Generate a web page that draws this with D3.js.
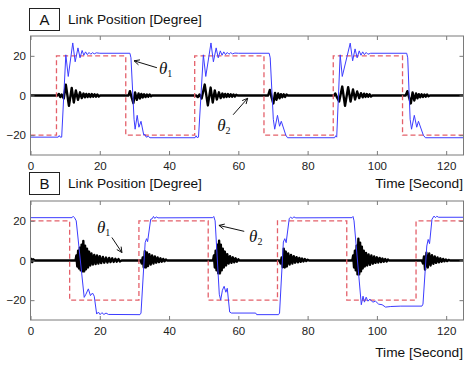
<!DOCTYPE html>
<html><head><meta charset="utf-8">
<script src="https://cdn.jsdelivr.net/npm/d3@7/dist/d3.min.js"></script>
<style>
body{margin:0;background:#fff;}
svg{display:block;}
</style></head>
<body>
<svg id="c" width="474" height="376"></svg>
<script>
// ---------- data ----------
const xTicks = [0, 20, 40, 60, 80, 100, 120];
const yTicks = [-20, 0, 20];
const xDomain = [0, 125];
const yDomain = [-30, 30];
const panelLetters = ["A", "B"];
const titleText = "Link Position [Degree]";
const xLabelText = "Time [Second]";

// Panel A: reference (red dashed), theta1 (blue), theta2 (black)
const refA = [[0,-20],[7.5,-20],[7.5,20],[27.5,20],[27.5,-20],[47.4,-20],[47.4,20],[67.4,20],[67.4,-20],[87.4,-20],[87.4,20],[107.4,20],[107.4,-20],[125,-20]];
const theta1A = [[0,-21],[8.0,-21],[8.3,-20.2],[8.6,-21],[9.0,-21],[10.2,20.5],[10.9,9.6],[12.2,26.5],[12.9,17],[13.7,24],[14.3,19],[14.9,22.7],[15.4,20.3],[15.9,22],[16.4,20.6],[16.9,21.7],[17.4,20.8],[17.9,21.6],[18.4,21],[19,21.5],[20,21.3],
  [28.7,21.3],[29.0,19],[29.9,-12],[30.2,-17],[30.8,-10],[31.3,-16],[31.9,-13],[32.7,-20],[33.0,-19.5],[33.4,-21],[34,-20.6],[34.5,-21.3],
  [47.5,-21.3],[47.8,-20.3],[48.1,-21.2],[48.5,-21],[49.9,20.5],[50.6,9.6],[52.1,26.5],[52.8,17],[53.6,24],[54.2,19],[54.8,22.5],[55.3,20.3],[55.8,22],[56.3,20.6],[56.8,21.7],[57.3,20.8],[57.8,21.6],[58.3,21],[59,21.4],[60,21.3],
  [68.9,21.3],[69.2,19],[70.1,-12],[70.5,-17],[71.3,-10],[71.9,-15.5],[72.4,-13],[73.7,-20],[74.2,-21.3],
  [87.8,-21.3],[88.1,-20.3],[88.4,-21],[89.4,20.5],[90.0,9.6],[92.3,26.4],[93.0,17.5],[93.7,23.5],[94.3,19],[94.9,22.5],[95.4,20.3],[95.9,22],[96.4,20.6],[96.9,21.7],[97.4,20.8],[98.2,21.3],
  [108.6,21.3],[108.9,19],[109.6,-12],[110.0,-17],[110.8,-10],[111.5,-16],[112.0,-13],[113.4,-20],[114,-21.3],[125,-21.3]];
const theta2A = [[0,0],[7.8,0],[8.2,0.8],[8.6,-0.8],[9.0,0.5],[9.6,-1.5],[10.2,5.5],[11.1,-5.2],[11.9,3.8],[12.5,-3.5],[13.1,2.5],[13.7,-2.2],[14.3,1.6],[14.8,-1.3],[15.3,1],[15.7,-0.9],[16.1,0.8],[16.5,-0.8],[16.9,0.7],[17.3,-0.7],[17.7,0.7],[18.1,-0.6],[18.5,0.6],[18.9,-0.6],[19.3,0.5],[19.7,-0.5],[20.1,0],
  [28.3,0],[28.7,2.2],[29.2,-1],[29.7,-3.8],[30.2,1.5],[30.7,-2.2],[31.2,1],[31.6,-1.5],[32.0,0.8],[32.4,-1],[32.8,0.6],[33.2,-0.8],[33.6,0.5],[34.0,-0.6],[34.4,0.5],[34.8,-0.4],[35.1,0],
  [47.8,0],[48.3,-0.8],[48.8,0.5],[49.4,-1.5],[50.3,5.5],[51.2,-5],[52.0,4],[52.6,-3.5],[53.2,2.5],[53.8,-2],[54.4,1.6],[54.9,-1.3],[55.4,1],[55.8,-0.9],[56.2,0.8],[56.6,-0.7],[57.0,0.7],[57.4,-0.6],[57.8,0.6],[58.2,-0.6],[58.6,0.5],[59.0,-0.5],[59.4,0.4],[59.8,0],
  [68.6,0],[69.1,2.8],[69.6,-1],[70.1,-4],[70.6,1.3],[71.0,-2.2],[71.5,1],[71.9,-1.4],[72.3,0.7],[72.7,-0.9],[73.1,0.6],[73.5,-0.7],[73.9,0.5],[74.3,0],
  [87.6,0],[88.0,1],[88.5,-1],[89.1,-3],[90.0,4.5],[90.8,-5.2],[91.7,4.2],[92.4,-3],[93.1,3],[93.7,-2],[94.3,2],[94.9,-1.3],[95.4,1.2],[95.9,-0.9],[96.3,0.9],[96.7,-0.7],[97.1,0.7],[97.5,-0.6],[97.9,0.6],[98.3,-0.5],[98.7,0],
  [108.3,0],[108.8,2.2],[109.3,-1],[109.8,-4],[110.3,1.5],[110.8,-2.5],[111.3,1],[111.7,-1.4],[112.1,0.7],[112.5,-0.9],[112.9,0.6],[113.3,-0.7],[113.7,0.5],[114.1,-0.6],[114.5,0.5],[114.9,-0.4],[115.3,0],[125,0]];

// Panel B
const refB = [[0,20],[11.3,20],[11.3,-20],[31.3,-20],[31.3,20],[51.3,20],[51.3,-20],[71.3,-20],[71.3,20],[91.3,20],[91.3,-20],[111.3,-20],[111.3,20],[125,20]];
const theta1B = [[0,21.6],[12.0,21.6],[12.3,22.3],[12.7,21.6],[13.2,20],[15.5,-18.6],[16.0,-17],[16.7,-14.3],[17.3,-17.7],[17.9,-16.4],[18.4,-18],[19.1,-27],[19.6,-26],[20.1,-27.3],[20.6,-26.3],[21.2,-27.2],[21.8,-26.5],[22.5,-27.2],
  [31.6,-27.3],[31.9,-26.5],[33.1,9],[33.5,11],[33.8,9.5],[34.7,20.8],[35.1,21],[35.5,22.2],[35.9,21.2],[36.3,22],[36.8,21.5],
  [52.6,21.6],[52.9,22.2],[53.3,20],[54.5,-17],[54.9,-20],[55.4,-15],[55.9,-13],[56.4,-16],[56.8,-14],[57.5,-26],[58,-26.5],[65,-26.5],[65.3,-27.3],
  [71.6,-27.3],[71.9,-26.5],[73.0,9.3],[73.4,11],[73.8,9],[74.7,21.2],[75.1,21.8],[75.6,21.2],[76,22],[76.6,21.5],
  [92.8,21.6],[93.1,22.2],[93.4,20],[95.5,-22.3],[96.0,-18],[96.4,-21],[96.9,-18.5],[97.4,-20.5],[98.0,-19.5],[98.8,-21],[99.6,-20.5],[100.5,-22],[101.5,-22.3],[102.5,-23.5],[104,-23.2],[106.9,-23],
  [113.0,-23],[113.3,-22],[114.4,7.3],[114.8,10.6],[115.2,8.5],[115.9,20.8],[116.5,22.4],[116.9,21.6],[117.3,22.3],[117.8,21.8],[125,21.8]];
const theta2B = [[0,0],[0.2,0.8],[0.5,-0.8],[0.8,0.6],[1.2,0],
  [13.0,0],[13.25,2.5],[13.5,-3],[13.75,5],[14.0,-4],[14.25,6.5],[14.5,-5],[14.75,8],[15.0,-5.5],[15.25,9.8],[15.5,-5.5],[15.75,7.5],[16.0,-4.5],[16.3,6],[16.6,-3.5],[16.9,4.5],[17.25,-2.5],[17.6,3.5],[18.0,-2],[18.4,2.8],[18.8,-1.8],[19.2,2.5],[19.6,-1.5],[20.0,2.2],[20.4,-1.3],[20.9,1.8],[21.3,-1.1],[21.8,1.5],[22.2,-1],[22.7,1.3],[23.1,-0.8],[23.6,1.1],[24.0,-0.7],[24.5,0.9],[24.9,-0.6],[25.4,0.7],[25.8,-0.5],[26.3,0],
  [31.8,0],[32.1,-1.5],[32.4,1.5],[32.7,-3.5],[33.0,4.7],[33.3,-3.5],[33.6,4],[33.9,-2.8],[34.3,3.2],[34.7,-2],[35.1,2.5],[35.5,-1.5],[35.9,2],[36.3,-1.1],[36.7,1.5],[37.1,-0.8],[37.5,1.1],[37.9,-0.6],[38.3,0.8],[38.7,-0.4],[39.1,0.5],[39.4,0],
  [52.7,0],[52.95,2.5],[53.2,-3.5],[53.45,5],[53.7,-5],[53.95,8],[54.2,-6.5],[54.45,10],[54.7,-6.5],[54.95,8],[55.2,-5],[55.5,6],[55.8,-3.5],[56.1,4.5],[56.45,-2.5],[56.8,3.2],[57.2,-1.5],[57.6,2.2],[58.0,-1.2],[58.4,1.6],[58.8,-0.9],[59.2,1.1],[59.6,-0.6],[60.0,0.6],[60.3,0],
  [71.9,0],[72.2,-1.5],[72.5,1.5],[72.8,-3.4],[73.1,6],[73.4,-3.5],[73.7,4.5],[74.0,-3],[74.4,3.5],[74.8,-2],[75.2,2.8],[75.6,-1.5],[76.0,2.2],[76.4,-1.1],[76.8,1.7],[77.2,-0.9],[77.6,1.3],[78.0,-0.7],[78.4,1],[78.8,-0.5],[79.2,0.7],[79.6,-0.3],[80.0,0.4],[80.4,0],
  [92.9,0],[93.15,2.5],[93.4,-3.5],[93.65,5],[93.9,-5],[94.15,7.5],[94.4,-7],[94.65,11],[94.9,-7],[95.15,9],[95.4,-5.5],[95.65,7],[95.9,-4],[96.2,5],[96.5,-3],[96.85,3.8],[97.2,-2.5],[97.6,3],[98.0,-2.2],[98.4,2.5],[98.8,-1.6],[99.2,2],[99.6,-1.2],[100.0,1.6],[100.4,-1],[100.8,1.3],[101.2,-0.8],[101.6,1],[102.0,-0.6],[102.4,0.7],[102.8,-0.5],[103.2,0.5],[103.5,0],
  [113.0,0],[113.3,-1.5],[113.6,2],[113.9,-4.6],[114.3,3.9],[114.7,-3.5],[115.1,3.5],[115.5,-2.5],[115.9,2.7],[116.3,-1.7],[116.7,2],[117.1,-1.2],[117.5,1.5],[117.9,-0.9],[118.3,1.1],[118.7,-0.6],[119.1,0.8],[119.5,-0.4],[119.9,0.5],[120.3,-0.3],[120.7,0.3],[121.1,0],[125,0]];

// annotations in data units: label position [t, v], arrow tail [t,v], arrow head [t,v], subscript
const annotA = [
  {label:[37.1,10.9], tail:[36.5,14], head:[29.9,17.5], sub:"1"},
  {label:[53.9,-17.8], tail:[58.5,-9.7], head:[62.7,-1.4], sub:"2"}];
const annotB = [
  {label:[19.2,13.7], tail:[23.5,11.6], head:[26.4,4], sub:"1"},
  {label:[63.1,9.1], tail:[61.7,14.7], head:[54.4,17.7], sub:"2"}];

// ---------- drawing ----------
const svg = d3.select("#c");
const fontSans = "'Liberation Sans', Arial, sans-serif";
const frameColor = "#7a7a7a";

const x = d3.scaleLinear().domain(xDomain).range([30.5, 463.5]);

function panel(idx, top, bottom, ref, th1, th2, annots, headerTop, timeBaseline) {
  const y = d3.scaleLinear().domain(yDomain).range([bottom, top]);
  const g = svg.append("g");
  const cid = "clip" + idx;
  svg.append("defs").append("clipPath").attr("id", cid)
    .append("rect").attr("x", x.range()[0]).attr("y", top)
    .attr("width", x.range()[1] - x.range()[0]).attr("height", bottom - top);

  // header box + title
  g.append("rect").attr("x", 29.5).attr("y", headerTop).attr("width", 30).attr("height", 22)
    .attr("fill", "none").attr("stroke", "#222").attr("stroke-width", 1);
  g.append("text").attr("x", 44.5).attr("y", headerTop + 16.5).attr("text-anchor", "middle")
    .attr("font-family", fontSans).attr("font-size", 15).attr("fill", "#111").text(panelLetters[idx]);
  g.append("text").attr("x", 68).attr("y", headerTop + 15.5)
    .attr("font-family", fontSans).attr("font-size", 13.7).attr("fill", "#111").text(titleText);

  // lines
  const line = d3.line().x(d => x(d[0])).y(d => y(d[1]));
  const lg = g.append("g").attr("clip-path", `url(#${cid})`);
  lg.append("path").datum(th2).attr("d", line).attr("fill", "none")
    .attr("stroke", "#000").attr("stroke-width", 2.4).attr("stroke-linejoin", "round");
  lg.append("path").datum(ref).attr("d", line).attr("fill", "none")
    .attr("stroke", "#e4606a").attr("stroke-width", 1.3).attr("stroke-dasharray", "5,3");
  lg.append("path").datum(th1).attr("d", line).attr("fill", "none")
    .attr("stroke", "#3c3cff").attr("stroke-width", 1);

  // axes (inward ticks)
  const axB = g.append("g").attr("transform", `translate(0,${bottom})`)
    .call(d3.axisBottom(x).tickValues(xTicks).tickSize(-4).tickPadding(6.5));
  const axT = g.append("g").attr("transform", `translate(0,${top})`)
    .call(d3.axisTop(x).tickValues(xTicks).tickSize(-4).tickFormat(""));
  const axL = g.append("g").attr("transform", `translate(${x.range()[0]},0)`)
    .call(d3.axisLeft(y).tickValues(yTicks).tickSize(-4).tickPadding(4.5));
  const axR = g.append("g").attr("transform", `translate(${x.range()[1]},0)`)
    .call(d3.axisRight(y).tickValues(yTicks).tickSize(-4).tickFormat(""));
  [axB, axT, axL, axR].forEach(a => {
    a.select(".domain").remove();
    a.selectAll("line").attr("stroke", frameColor);
    a.selectAll("text").attr("font-family", fontSans).attr("font-size", 11.5).attr("fill", "#222");
  });
  g.append("rect").attr("x", x.range()[0]).attr("y", top)
    .attr("width", x.range()[1] - x.range()[0]).attr("height", bottom - top)
    .attr("fill", "none").attr("stroke", frameColor).attr("stroke-width", 1);

  // x label
  g.append("text").attr("x", 463).attr("y", timeBaseline).attr("text-anchor", "end")
    .attr("font-family", fontSans).attr("font-size", 13.7).attr("fill", "#111").text(xLabelText);

  // annotations
  annots.forEach(a => {
    const t = g.append("text").attr("x", x(a.label[0])).attr("y", y(a.label[1]))
      .attr("font-family", "'Liberation Serif', 'Times New Roman', serif").attr("fill", "#111");
    t.append("tspan").attr("font-style", "italic").attr("font-size", 17).text("θ");
    t.append("tspan").attr("font-size", 10).attr("dy", 3).text(a.sub);
    const x1 = x(a.tail[0]), y1 = y(a.tail[1]), x2 = x(a.head[0]), y2 = y(a.head[1]);
    g.append("line").attr("x1", x1).attr("y1", y1).attr("x2", x2).attr("y2", y2)
      .attr("stroke", "#111").attr("stroke-width", 1);
    const ang = Math.atan2(y2 - y1, x2 - x1), L = 6, w = 0.45;
    const p1 = [x2 - L * Math.cos(ang - w), y2 - L * Math.sin(ang - w)];
    const p2 = [x2 - L * Math.cos(ang + w), y2 - L * Math.sin(ang + w)];
    g.append("path").attr("d", `M${p1}L${x2},${y2}L${p2}`).attr("fill", "none")
      .attr("stroke", "#111").attr("stroke-width", 1);
  });
}

panel(0, 36, 155, refA, theta1A, theta2A, annotA, 8.5, 187.5);
panel(1, 201, 320, refB, theta1B, theta2B, annotB, 172.5, 356.5);
</script>
</body></html>
